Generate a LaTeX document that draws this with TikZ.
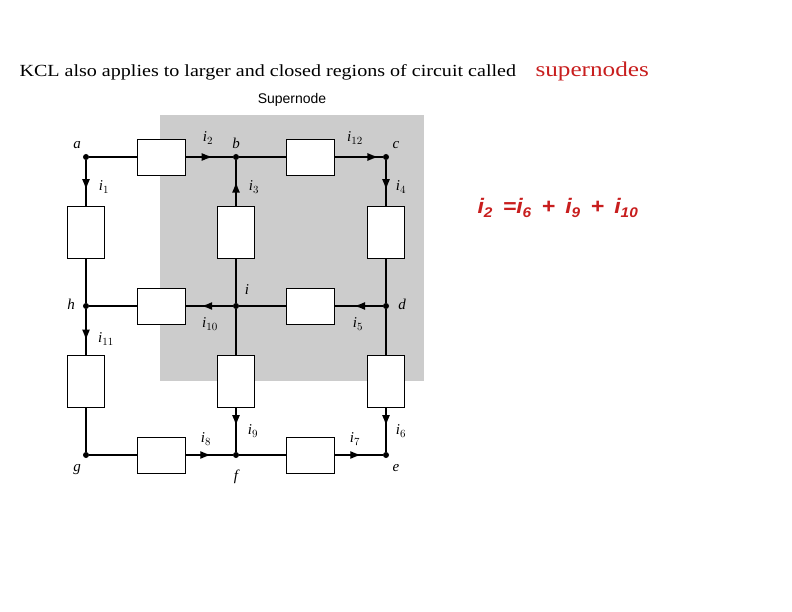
\documentclass[tikz,border=0pt]{standalone}
\usepackage{fontspec}
\setmainfont{Liberation Serif}
\newfontfamily\eqfont{Liberation Sans}
\usetikzlibrary{arrows.meta,decorations.markings}
\definecolor{supred}{RGB}{200,30,30}
\newcommand{\subi}[1]{\raisebox{-4pt}{\fontsize{14}{16}\selectfont #1}}
\tikzset{
  wire/.style={line width=1.4pt},
  hbox/.style={draw,line width=0.8pt,fill=white,minimum width=48pt,minimum height=36pt,inner sep=0pt},
  vbox/.style={draw,line width=0.8pt,fill=white,minimum width=37pt,minimum height=52pt,inner sep=0pt},
  dot/.style={circle,fill,inner sep=0pt,minimum size=6pt},
  lab/.style={font=\itshape\fontsize{15}{17}\selectfont},
  arr/.style={postaction={decorate},decoration={markings,mark=at position #1 with {\arrow{Latex[length=11pt,width=8pt]}}}},
}
\begin{document}
\begin{tikzpicture}[x=1pt,y=-1pt]
  \useasboundingbox (0,0) rectangle (792,612);
  \fill[gray!40] (160,115) rectangle (424,381);
  \node[font=\eqfont\fontsize{14}{16}\selectfont] (sn) at (292,100) {Supernode};
  \node[anchor=west,font=\fontsize{17}{20}\selectfont] (kcl) at (16,72)
    {\scalebox{1.18}[1]{KCL also applies to larger and closed regions of circuit called}};
  \node[anchor=west,font=\fontsize{21}{24}\selectfont,text=supred] (sup) at (532,71)
    {\scalebox{1.2}[1]{supernodes}};
  \node[anchor=west,font=\eqfont\bfseries\itshape\fontsize{21}{24}\selectfont,text=supred] (eq) at (474,208)
    {\scalebox{1.1}[1]{i\subi{2}\ \,=i\subi{6}\ \,+\ \,i\subi{9}\ \,+\ \,i\subi{10}}};
  % nodes
  \node[dot] (a) at (86,157) {};  \node[dot] (b) at (236,157) {};  \node[dot] (c) at (386,157) {};
  \node[dot] (h) at (86,306) {};  \node[dot] (i) at (236,306) {};  \node[dot] (d) at (386,306) {};
  \node[dot] (g) at (86,455) {};  \node[dot] (f) at (236,455) {};  \node[dot] (e) at (386,455) {};
  % wires
  \draw[wire,arr=0.86] (a) -- (b);
  \draw[wire,arr=0.97] (b) -- (c);
  \draw[wire,arr=0.21] (a) -- (h);
  \draw[wire,arr=0.22] (h) -- (g);
  \draw[wire,arr=0.85] (i) -- (b);
  \draw[wire,arr=0.82] (i) -- (f);
  \draw[wire,arr=0.21] (c) -- (d);
  \draw[wire,arr=0.82] (d) -- (e);
  \draw[wire,arr=0.22] (i) -- (h);
  \draw[wire,arr=0.2] (d) -- (i);
  \draw[wire,arr=0.85] (g) -- (f);
  \draw[wire,arr=0.85] (f) -- (e);
  % elements
  \foreach \x/\y/\n in {161/157/ab,310/157/bc,161/306/hi,310/306/id,161/455/gf,310/455/fe}
    \node[hbox] (box\n) at (\x,\y) {};
  \foreach \x/\y/\n in {86/232/ah,236/232/bi,386/232/cd,86/381/hg,236/381/if,386/381/de}
    \node[vbox] (box\n) at (\x,\y) {};
  % labels
  \node[lab] (la) at (77,145) {a};  \node[lab] (lb) at (236,143) {b};  \node[lab] (lc) at (396,145) {c};
  \node[lab] (lh) at (71,304) {h};  \node[lab] (li) at (247,290) {i};  \node[lab] (ld) at (402,304) {d};
  \node[lab] (lg) at (77,470) {g};  \node[lab] (lf) at (236,477) {f};  \node[lab] (le) at (396,468) {e};
  \node[lab] (i2) at (208,138) {i$_2$};  \node[lab] (i12) at (355,138) {i$_{12}$};
  \node[lab] (i1) at (104,187) {i$_1$};  \node[lab] (i3) at (254,187) {i$_3$};  \node[lab] (i4) at (401,187) {i$_4$};
  \node[lab] (i10) at (210,324) {i$_{10}$};  \node[lab] (i5) at (358,324) {i$_5$};
  \node[lab] (i11) at (106,339) {i$_{11}$};
  \node[lab] (i9) at (253,431) {i$_9$};  \node[lab] (i6) at (401,431) {i$_6$};
  \node[lab] (i8) at (206,439) {i$_8$};  \node[lab] (i7) at (355,439) {i$_7$};
\end{tikzpicture}
\end{document}
